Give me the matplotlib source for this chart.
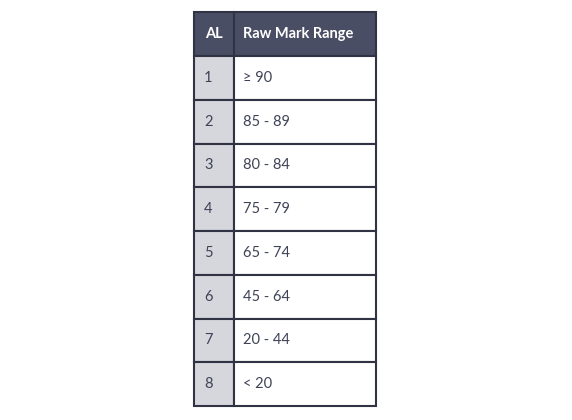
import matplotlib.pyplot as plt
from matplotlib.patches import Rectangle

levels = ["1", "2", "3", "4", "5", "6", "7", "8"]
ranges = ["\u2265 90", "85 - 89", "80 - 84", "75 - 79", "65 - 74", "45 - 64", "20 - 44", "< 20"]
headers = ["AL", "Raw Mark Range"]

W, H = 572, 420
fig = plt.figure(figsize=(W / 100, H / 100), dpi=100)
ax = fig.add_axes([0, 0, 1, 1])
ax.set_xlim(0, W)
ax.set_ylim(H, 0)
ax.axis("off")

x0, x1, x2 = 194, 234, 376
top, head_bot, bottom = 12, 56, 406
row_h = (bottom - head_bot) / len(levels)
edge = "#2f3344"
text_c = "#3e4257"

ax.add_patch(Rectangle((x0, top), x2 - x0, head_bot - top, fc="#4a4e64", ec=edge, lw=1.5))
ax.text((x0 + x1) / 2, (top + head_bot) / 2, headers[0], color="white", fontsize=10.5,
        fontweight="bold", family="Lato", ha="center", va="center")
ax.text(x1 + 9, (top + head_bot) / 2, headers[1], color="white", fontsize=10.5,
        fontweight="bold", family="Lato", ha="left", va="center")
ax.plot([x1, x1], [top, head_bot], color=edge, lw=1.5)

for i, (lv, rg) in enumerate(zip(levels, ranges)):
    y = head_bot + i * row_h
    ax.add_patch(Rectangle((x0, y), x1 - x0, row_h, fc="#d5d7dc", ec=edge, lw=1.5))
    ax.add_patch(Rectangle((x1, y), x2 - x1, row_h, fc="white", ec=edge, lw=1.5))
    ax.text(x0 + 10, y + row_h / 2, lv, color=text_c, fontsize=10.5, family="Lato",
            ha="left", va="center")
    ax.text(x1 + 9, y + row_h / 2, rg, color=text_c, fontsize=10.5,
            family=["Lato", "DejaVu Sans"], ha="left", va="center")

fig.savefig("out.png", dpi=100)
